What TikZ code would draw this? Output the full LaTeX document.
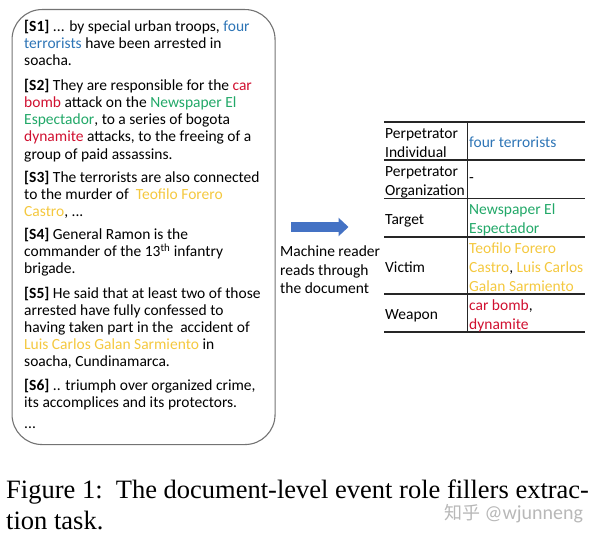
\documentclass[tikz,border=0pt]{standalone}
\usepackage{fontspec}
\setmainfont{Carlito}
\newfontfamily\capfont{Liberation Serif}
\newfontfamily\cjkfont{Noto Sans CJK SC}
\usetikzlibrary{arrows.meta}

\definecolor{roleblue}{HTML}{2E75B6}
\definecolor{rolered}{HTML}{D01030}
\definecolor{rolegreen}{HTML}{22A868}
\definecolor{roleyellow}{HTML}{F4C83F}
\definecolor{arrowblue}{HTML}{4472C4}
\newcommand{\sid}[1]{\textbf{[S#1]}}
\newcommand{\rb}[1]{\textcolor{roleblue}{#1}}
\newcommand{\rr}[1]{\textcolor{rolered}{#1}}
\newcommand{\rg}[1]{\textcolor{rolegreen}{#1}}
\newcommand{\ry}[1]{\textcolor{roleyellow}{#1}}

\tikzset{
  para/.style={anchor=north west, inner sep=0pt, align=left, font=\fontsize{15.5}{17.15}\selectfont},
  cell/.style={anchor=west, inner sep=0pt, align=left, font=\fontsize{15.5}{19}\selectfont},
  rule/.style={line width=1.3pt, black!85},
  captext/.style={anchor=base west, inner sep=0pt, font=\capfont\fontsize{26.5}{31}\selectfont}
}

\begin{document}
\begin{tikzpicture}[x=1pt,y=-1pt]
    \useasboundingbox (0,0) rectangle (600,540);
    % document box
    \node[draw=black!55, line width=1.1pt, rounded corners=30pt, minimum width=263pt, minimum height=435pt,
          inner sep=0pt, anchor=north west] (docbox) at (11.5,9) {};
    % sentences
    \node[para] (s1) at (24,20) {\sid{1} ... by special urban troops, \rb{four}\\ \rb{terrorists} have been arrested in\\ soacha.};
    \node[para] (s2) at (24,79) {\sid{2} They are responsible for the \rr{car}\\ \rr{bomb} attack on the \rg{Newspaper El}\\ \rg{Espectador}, to a series of bogota\\ \rr{dynamite} attacks, to the freeing of a\\ group of paid assassins.};
    \node[para] (s3) at (24,171) {\sid{3} The terrorists are also connected\\ to the murder of~ \ry{Teofilo Forero}\\ \ry{Castro}, ...};
    \node[para] (s4) at (24,228) {\sid{4} General Ramon is the\\ commander of the 13\textsuperscript{th} infantry\\ brigade.};
    \node[para] (s5) at (24,286.5) {\sid{5} He said that at least two of those\\ arrested have fully confessed to\\ having taken part in the~ accident of\\ \ry{Luis Carlos Galan Sarmiento} in\\ soacha, Cundinamarca.};
    \node[para] (s6) at (24,378.5) {\sid{6} .. triumph over organized crime,\\ its accomplices and its protectors.};
    \node[para] (dots) at (24,427) {...};
    % machine reader arrow
    \coordinate (arrowstart) at (291,227);
    \coordinate (arrowend) at (348.5,227);
    \draw[-{Triangle[length=10pt,width=18pt]}, line width=9.5pt, color=arrowblue] (arrowstart) -- (arrowend);
    \node[para, font=\fontsize{15.5}{18.4}\selectfont] (reader) at (280,246) {Machine reader\\ reads through\\ the document};
    % table rules
    \coordinate (topl) at (384,122);
    \coordinate (topr) at (585,122);
    \coordinate (botl) at (384,332);
    \coordinate (botr) at (585,332);
    \coordinate (coltop) at (467.5,122);
    \coordinate (colbot) at (467.5,332);
    \draw[rule] (topl) -- (topr);
    \foreach \y in {160,198.5,237,294} {
        \draw[rule] (384,\y) -- (585,\y);
    }
    \draw[rule] (botl) -- (botr);
    \draw[rule] (coltop) -- (colbot);
    % table text
    \node[cell] (role1) at (385,143) {Perpetrator\\ Individual};
    \node[cell] (role2) at (385,182) {Perpetrator\\ Organization};
    \node[cell] (role3) at (385,221) {Target};
    \node[cell] (role4) at (385,267) {Victim};
    \node[cell] (role5) at (385,316) {Weapon};
    \node[cell] (fill1) at (469,142) {\rb{four terrorists}};
    \node[cell] (fill2) at (469,180) {-};
    \node[cell] (fill3) at (469,220) {\rg{Newspaper El}\\ \rg{Espectador}};
    \node[cell] (fill4) at (469,267) {\ry{Teofilo Forero}\\ \ry{Castro}, \ry{Luis Carlos}\\ \ry{Galan Sarmiento}};
    \node[cell] (fill5) at (469,316) {\rr{car bomb},\\ \rr{dynamite}};
    % caption
    \node[captext] (caption) at (6,498) {Figure 1:\, The document-level event role fillers extrac-};
    \node[captext] (caption2) at (6,529) {tion task.};
    % watermark
    \node[anchor=base west, inner sep=0pt, text=black!28, font=\fontsize{20}{20}\selectfont] (mark) at (444,519) {{\cjkfont\fontsize{18}{20}\selectfont 知乎} @wjunneng};
\end{tikzpicture}
\end{document}
